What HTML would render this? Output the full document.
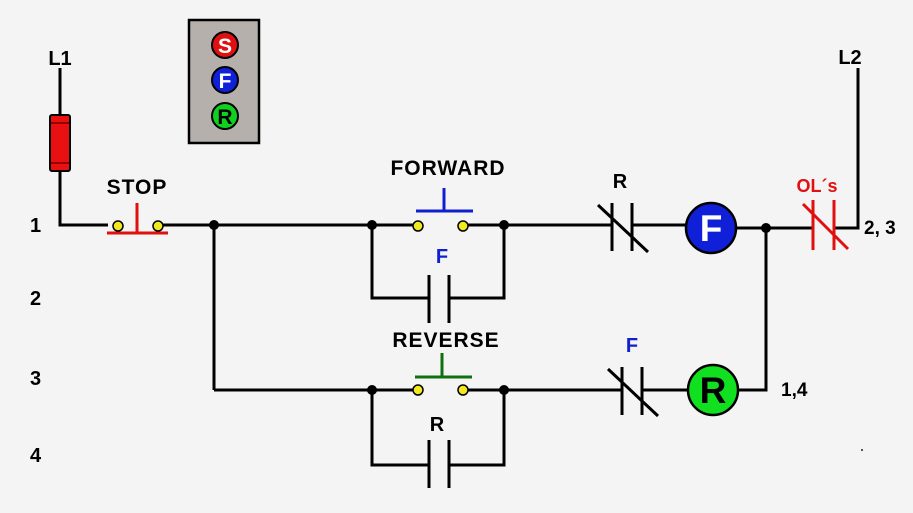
<!DOCTYPE html>
<html><head><style>body{margin:0;background:#f4f4f4}svg{display:block}text{font-family:"Liberation Sans",Arial,sans-serif;font-weight:bold}</style></head>
<body>
<svg width="913" height="513" viewBox="0 0 913 513">
<rect width="913" height="513" fill="#f4f4f4"/>
<g stroke="#000" stroke-width="3" fill="none">
<polyline points="60,68 60,225 108,225"/>
<line x1="163" y1="225" x2="413" y2="225"/>
<line x1="468" y1="225" x2="612" y2="225"/>
<line x1="632" y1="225" x2="686" y2="225"/>
<line x1="737" y1="228" x2="813" y2="228"/>
<polyline points="834,228 858,228 858,68"/>
<line x1="214" y1="225" x2="214" y2="390"/>
<line x1="214" y1="390" x2="413" y2="390"/>
<line x1="468" y1="390" x2="622" y2="390"/>
<line x1="642" y1="390" x2="688" y2="390"/>
<polyline points="739,390 766,390 766,228"/>
<polyline points="372,225 372,298 429,298"/>
<polyline points="504,225 504,298 449,298"/>
<line x1="429" y1="275" x2="429" y2="323"/><line x1="449" y1="275" x2="449" y2="323"/>
<polyline points="372,390 372,465 429,465"/>
<polyline points="504,390 504,465 449,465"/>
<line x1="429" y1="440" x2="429" y2="488"/><line x1="449" y1="440" x2="449" y2="488"/>
<line x1="612" y1="203" x2="612" y2="251"/><line x1="632" y1="203" x2="632" y2="251"/>
<line x1="598" y1="205" x2="648" y2="252"/>
<line x1="622" y1="367" x2="622" y2="415"/><line x1="642" y1="367" x2="642" y2="415"/>
<line x1="608" y1="369" x2="658" y2="416"/>
</g>
<g fill="#000"><circle cx="214" cy="225" r="5"/><circle cx="372" cy="225" r="5"/><circle cx="504" cy="225" r="5"/><circle cx="372" cy="390" r="5"/><circle cx="504" cy="390" r="5"/><circle cx="766" cy="228" r="5"/></g>
<g stroke="#e01010" stroke-width="3"><line x1="813" y1="200" x2="813" y2="250"/><line x1="834" y1="200" x2="834" y2="250"/><line x1="803" y1="204" x2="848" y2="249"/>
<line x1="107" y1="233" x2="168" y2="233"/><line x1="137" y1="203" x2="137" y2="233"/></g>
<g stroke="#1020d0" stroke-width="3"><line x1="416" y1="211" x2="473" y2="211"/><line x1="444" y1="188" x2="444" y2="211"/></g>
<g stroke="#107010" stroke-width="3"><line x1="415" y1="377" x2="472" y2="377"/><line x1="442" y1="353" x2="442" y2="377"/></g>
<g fill="#f0e820" stroke="#000" stroke-width="1.5"><circle cx="118" cy="226" r="5"/><circle cx="158" cy="226" r="5"/><circle cx="418" cy="226" r="5"/><circle cx="463" cy="226" r="5"/><circle cx="418" cy="390" r="5"/><circle cx="463" cy="390" r="5"/></g>
<rect x="50" y="115" width="20" height="56" rx="2" fill="#e81010" stroke="#000" stroke-width="2"/>
<line x1="51" y1="123" x2="69" y2="123" stroke="#900" stroke-width="2"/><line x1="51" y1="163" x2="69" y2="163" stroke="#900" stroke-width="2"/>
<rect x="189" y="20" width="70" height="123" fill="#b5b0ac" stroke="#000" stroke-width="2.5"/>
<circle cx="225" cy="45" r="13" fill="#e01010" stroke="#000" stroke-width="2"/>
<circle cx="225" cy="80" r="13" fill="#1020d8" stroke="#000" stroke-width="2"/>
<circle cx="225" cy="116" r="13" fill="#10d020" stroke="#000" stroke-width="2"/>
<text x="225" y="53" font-size="21" fill="#fff" text-anchor="middle">S</text>
<text x="225" y="88" font-size="21" fill="#fff" text-anchor="middle">F</text>
<text x="225" y="124" font-size="21" fill="#000" text-anchor="middle" font-weight="normal">R</text>
<circle cx="711" cy="228" r="25" fill="#1020d8" stroke="#000" stroke-width="2.5"/>
<text x="711" y="241" font-size="37" fill="#fff" text-anchor="middle" font-weight="normal">F</text>
<circle cx="713" cy="390" r="25" fill="#10e020" stroke="#000" stroke-width="2.5"/>
<text x="713" y="403" font-size="37" fill="#000" text-anchor="middle" font-weight="normal">R</text>
<g font-size="20" fill="#000">
<text x="60" y="65" text-anchor="middle">L1</text>
<text x="850" y="64" text-anchor="middle">L2</text>
<text x="137" y="194" text-anchor="middle" font-size="21" letter-spacing="1">STOP</text>
<text x="448" y="175" text-anchor="middle" font-size="21" letter-spacing="1">FORWARD</text>
<text x="446" y="347" text-anchor="middle" font-size="21" letter-spacing="1">REVERSE</text>
<text x="437" y="431" text-anchor="middle">R</text>
<text x="620" y="188" text-anchor="middle">R</text>
<text x="864" y="234" font-size="19">2, 3</text>
<text x="781" y="396" font-size="19">1,4</text>
<text x="30" y="232">1</text><text x="30" y="305">2</text><text x="30" y="385">3</text><text x="30" y="462">4</text>
</g>
<text x="442" y="263" font-size="20" fill="#1020d0" text-anchor="middle">F</text>
<text x="632" y="352" font-size="20" fill="#1020d0" text-anchor="middle">F</text>
<text x="817" y="192" font-size="18" fill="#e01010" text-anchor="middle">OL´s</text>
<rect x="861" y="449" width="2" height="2" fill="#555"/>
</svg>
</body></html>
